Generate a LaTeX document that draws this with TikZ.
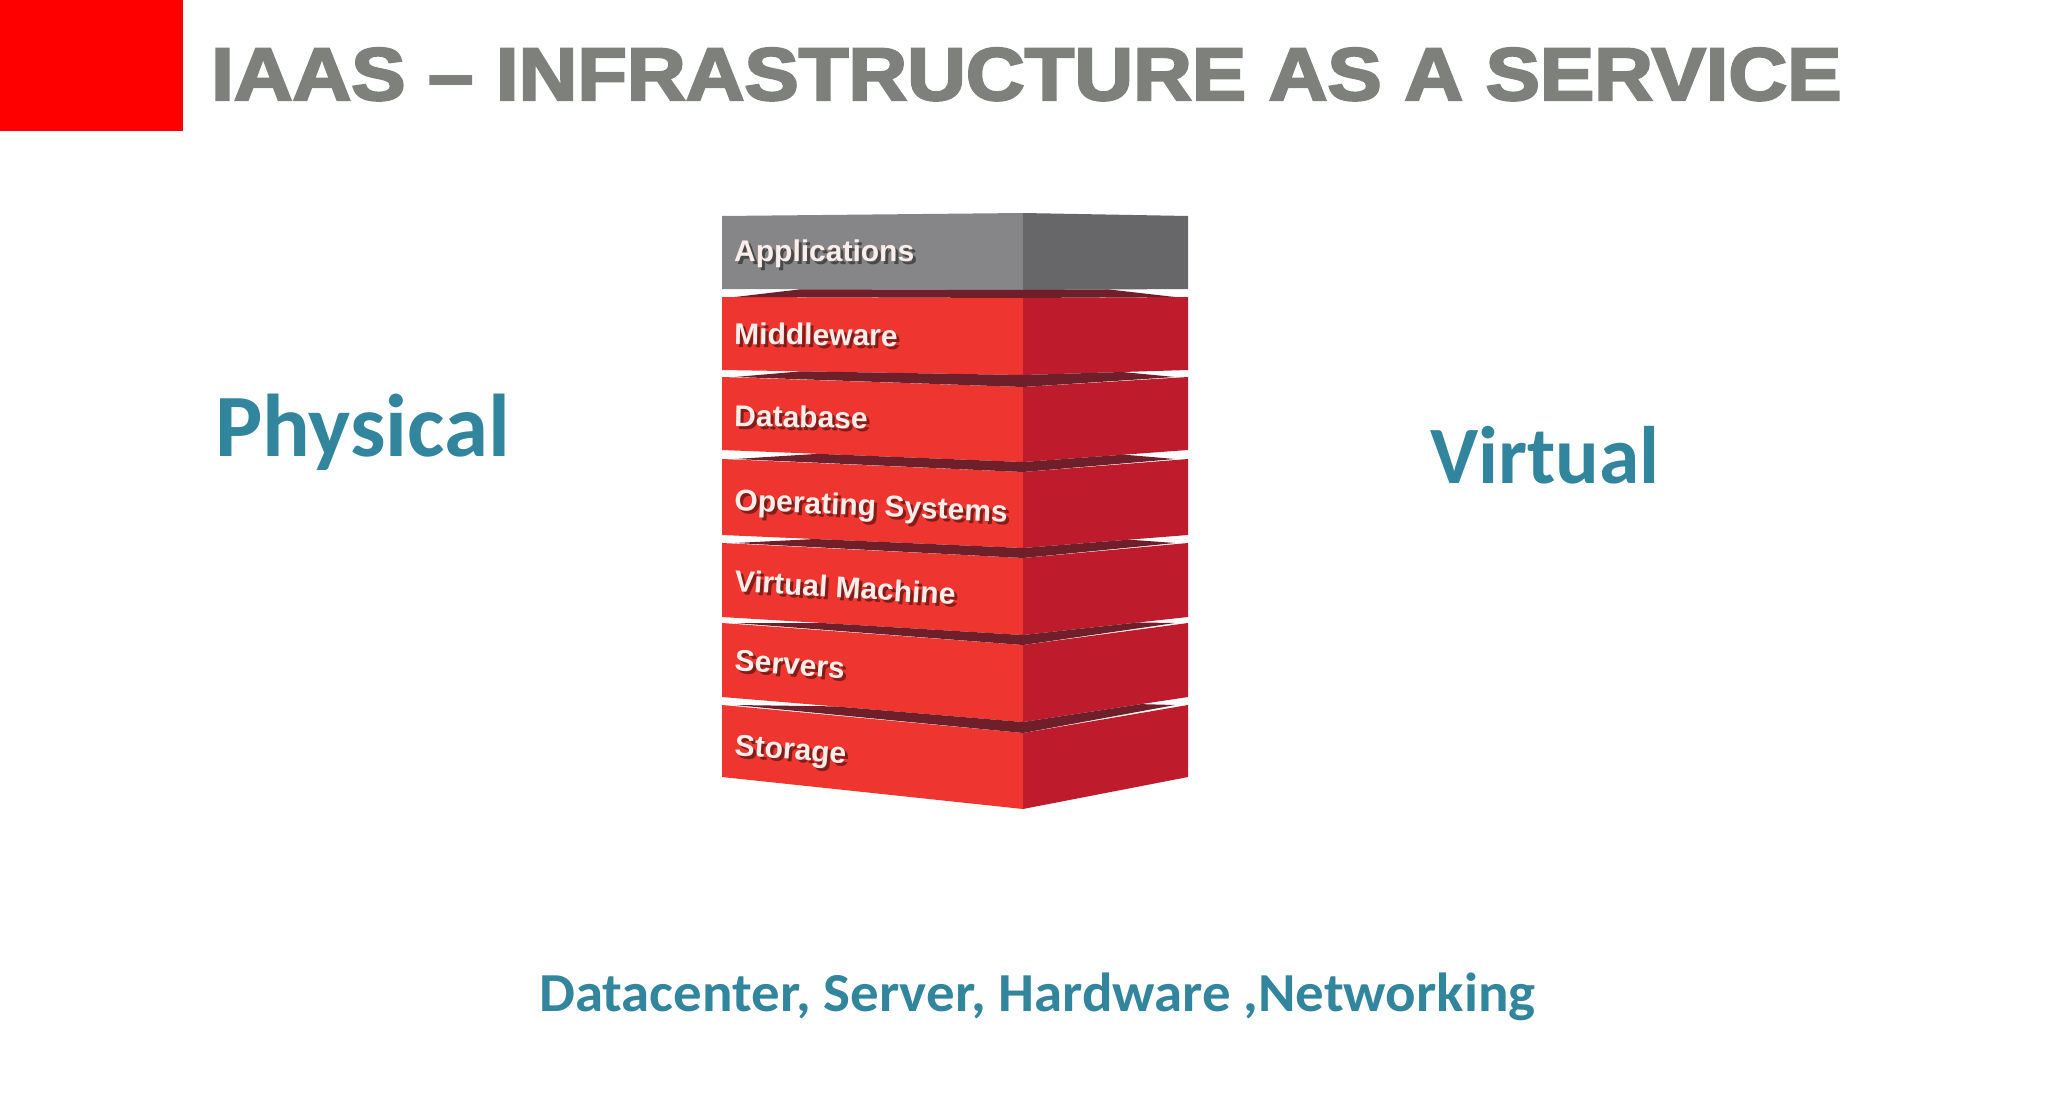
\documentclass[tikz,border=0pt]{standalone}
\usepackage{fontspec}
\setmainfont{Liberation Sans}
\newfontfamily\tealfont{Carlito}
\newfontfamily\titlefont[BoldFeatures={FakeBold=3}]{Liberation Sans}
\definecolor{slidered}{HTML}{FF0000}
\definecolor{titlegrey}{HTML}{7E807C}
\definecolor{teal}{HTML}{31859C}
\definecolor{frontred}{HTML}{EE3530}
\definecolor{sidered}{HTML}{BE1C2C}
\definecolor{frontgrey}{HTML}{868587}
\definecolor{sidegrey}{HTML}{676668}
\definecolor{wedge}{HTML}{6E1F2A}
\definecolor{labeltext}{HTML}{FBEDEA}
\tikzset{
  x=1pt,y=-1pt,
  tealtext/.style={anchor=base west,inner sep=0pt,text=teal,font=\tealfont\bfseries},
  labelnode/.style={anchor=base west,inner sep=0pt,text=labeltext,font=\bfseries\fontsize{30}{30}\selectfont},
  shadownode/.style={anchor=base west,inner sep=0pt,text=black,text opacity=0.45,font=\bfseries\fontsize{30}{30}\selectfont},
}
% layer: top L,M,R ; bottom L,M,R ; front colour ; side colour
\newcommand{\stacklayer}[8]{%
  \fill[#7] (722,#1) -- (1023,#2) -- (1023,#5) -- (722,#4) -- cycle;
  \fill[#8] (1023,#2) -- (1188,#3) -- (1188,#6) -- (1023,#5) -- cycle;
}
% gap wedge: upper bottom L,M ; lower top L,M ; xa ; xb
\newcommand{\stackgap}[6]{%
  \pgfmathsetmacro{\ya}{#1+(#2-#1)*(#5-722)/301}%
  \pgfmathsetmacro{\yb}{#1+(#2-#1)*(1188-#6)/165}%
  \fill[wedge] (#5,\ya) -- (1023,#2) -- (#6,\yb) -- (1175,#3) -- (1023,#4) -- (735,#3) -- cycle;
}
\newcommand{\stacklabel}[5]{%
  \node[shadownode,rotate=#4] (#1s) at (#2+3,#3+3) {#5};
  \node[labelnode,rotate=#4] (#1) at (#2,#3) {#5};
}
\begin{document}
\begin{tikzpicture}
\useasboundingbox (0,0) rectangle (2048,1097);
\fill[white] (0,0) rectangle (2048,1097);
\fill[slidered] (0,0) rectangle (183,131);
\node[anchor=base west,inner sep=0pt,text=titlegrey,font=\titlefont\bfseries\fontsize{74.5}{75}\selectfont] (title) at (211,100)
  {\scalebox{1.092}[1]{IAAS – INFRASTRUCTURE AS A SERVICE}};
\node[tealtext,font=\tealfont\bfseries\fontsize{89}{89}\selectfont] (physical) at (215,456) {Physical};
\node[tealtext,font=\tealfont\bfseries\fontsize{81.5}{82}\selectfont] (virtual) at (1430,483) {Virtual};
\node[tealtext,font=\tealfont\bfseries\fontsize{55}{55}\selectfont] (bottom) at (539,1011) {\scalebox{1.035}[1]{Datacenter, Server, Hardware ,Networking}};

\stacklayer{216}{213}{216}{289}{290}{289}{frontgrey}{sidegrey}
\stacklayer{297}{298}{297}{370}{375}{370}{frontred}{sidered}
\stacklayer{377}{387}{377}{450}{462}{450}{frontred}{sidered}
\stacklayer{459}{472}{459}{535}{548}{535}{frontred}{sidered}
\stacklayer{543}{558}{543}{617}{635}{617}{frontred}{sidered}
\stacklayer{623}{645}{623}{697}{722}{697}{frontred}{sidered}
\stacklayer{705}{733}{705}{777}{809}{777}{frontred}{sidered}

\stackgap{289}{290}{297}{298}{801}{1109}
\stackgap{370}{375}{377}{387}{801}{1122}
\stackgap{450}{462}{459}{472}{818}{1124}
\stackgap{535}{548}{543}{558}{815}{1129}
\stackgap{617}{635}{623}{645}{825}{1138}
\stackgap{697}{722}{705}{733}{835}{1141}

\stacklabel{apps}{734}{261}{-0.3}{Applications}
\stacklabel{mid}{734}{344}{-0.8}{Middleware}
\stacklabel{db}{734}{426}{-1.2}{Database}
\stacklabel{os}{734}{510}{-2.5}{Operating Systems}
\stacklabel{vm}{734}{591}{-3.6}{Virtual Machine}
\stacklabel{srv}{734}{670}{-4.7}{Servers}
\stacklabel{sto}{734}{755}{-4.7}{Storage}
\end{tikzpicture}
\end{document}
